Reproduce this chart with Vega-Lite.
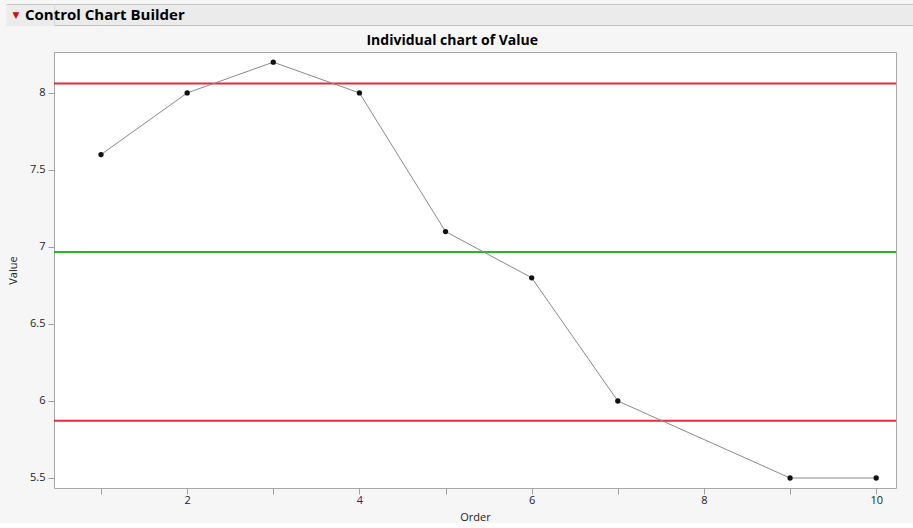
{
  "$schema": "https://vega.github.io/schema/vega-lite/v6.json",
  "background": "#f6f6f6",
  "padding": {"left": 4, "top": 3, "right": 0, "bottom": 0},
  "spacing": 6,
  "config": {
    "font": "Open Sans",
    "view": {"stroke": "#a8a8a8"},
    "axis": {
      "labelFont": "Open Sans",
      "titleFont": "Open Sans",
      "labelFontSize": 11,
      "titleFontSize": 11,
      "titleFontWeight": "normal",
      "labelColor": "#222222",
      "titleColor": "#222222",
      "tickColor": "#a0a0a0",
      "domain": false,
      "grid": false
    }
  },
  "datasets": {
    "values": [
      {"order": 1, "value": 7.6},
      {"order": 2, "value": 8.0},
      {"order": 3, "value": 8.2},
      {"order": 4, "value": 8.0},
      {"order": 5, "value": 7.1},
      {"order": 6, "value": 6.8},
      {"order": 7, "value": 6.0},
      {"order": 9, "value": 5.5},
      {"order": 10, "value": 5.5}
    ],
    "limits": [
      {"limit": "UCL", "value": 8.062},
      {"limit": "Avg", "value": 6.967},
      {"limit": "LCL", "value": 5.871}
    ]
  },
  "vconcat": [
    {
      "width": 861,
      "height": 21,
      "title": {
        "text": "Control Chart Builder",
        "anchor": "start",
        "frame": "group",
        "orient": "top",
        "offset": -19,
        "dx": -29,
        "fontSize": 15,
        "fontWeight": "bold",
        "color": "#000000"
      },
      "view": {"fill": "#ebebeb", "stroke": "#c4c4c4"},
      "data": {"values": [{"band": 10.5}]},
      "mark": {"type": "rect", "opacity": 0},
      "encoding": {
        "y": {
          "field": "band",
          "type": "quantitative",
          "scale": {"domain": [0, 21], "nice": false, "zero": false},
          "axis": {
            "title": null,
            "values": [0.5, 1.5, 2.5, 3.5, 4.5, 5.5, 6.5, 7.5, 8.5, 9.5, 10.5, 11.5, 12.5, 13.5, 14.5, 15.5, 16.5, 17.5, 18.5, 19.5, 20.5, 0, 21],
            "tickSize": 48,
            "tickCap": "butt",
            "tickWidth": {"expr": "datum.value % 1 == 0 ? 1 : 1.4"},
            "tickColor": {"expr": "datum.value % 1 == 0 ? '#c4c4c4' : '#ebebeb'"},
            "labelExpr": "datum.value == 10.5 ? '▼' : ''",
            "labelOverlap": false,
            "labelFlush": false,
            "labelFont": "DejaVu Sans",
            "labelFontSize": {"expr": "datum.value == 10.5 ? 9 : 0"},
            "labelColor": "#d01010",
            "labelAlign": "left",
            "labelPadding": -6
          }
        }
      }
    },
    {
      "width": 842,
      "height": 436,
      "title": {
        "text": "Individual chart of Value",
        "anchor": "middle",
        "frame": "bounds",
        "fontSize": 14,
        "fontWeight": "bold",
        "color": "#000000",
        "offset": 4
      },
      "view": {"fill": "#ffffff", "stroke": "#a8a8a8"},
      "layer": [
        {
          "data": {"name": "limits"},
          "mark": {"type": "rule", "strokeWidth": 2},
          "encoding": {
            "y": {"field": "value", "type": "quantitative"},
            "color": {
              "field": "limit",
              "type": "nominal",
              "scale": {"domain": ["UCL", "Avg", "LCL"], "range": ["#e8283e", "#22b922", "#e8283e"]},
              "legend": null
            }
          }
        },
        {
          "data": {"name": "values"},
          "mark": {"type": "line", "color": "#8a8a8a", "strokeWidth": 1},
          "encoding": {
            "x": {"field": "order", "type": "quantitative"},
            "y": {"field": "value", "type": "quantitative"}
          }
        },
        {
          "data": {"name": "values"},
          "mark": {"type": "circle", "color": "#111111", "opacity": 1, "size": 28},
          "encoding": {
            "x": {
              "field": "order",
              "type": "quantitative",
              "title": "Order",
              "scale": {"domain": [0.454, 10.23], "nice": false, "zero": false},
              "axis": {
                "values": [1, 2, 3, 4, 5, 6, 7, 8, 9, 10],
                "format": "d",
                "labelExpr": "datum.value % 2 == 0 ? datum.label : ''",
                "labelColor": {"expr": "datum.value == 4 ? '#5a0a6e' : '#222222'"},
                "tickSize": 6,
                "labelPadding": 0,
                "titlePadding": 6
              }
            },
            "y": {
              "field": "value",
              "type": "quantitative",
              "title": "Value",
              "scale": {"domain": [5.435, 8.266], "nice": false, "zero": false},
              "axis": {
                "values": [5.5, 6, 6.5, 7, 7.5, 8],
                "format": "~g",
                "tickSize": 6,
                "labelPadding": 3,
                "titlePadding": 11
              }
            }
          }
        }
      ]
    }
  ]
}
